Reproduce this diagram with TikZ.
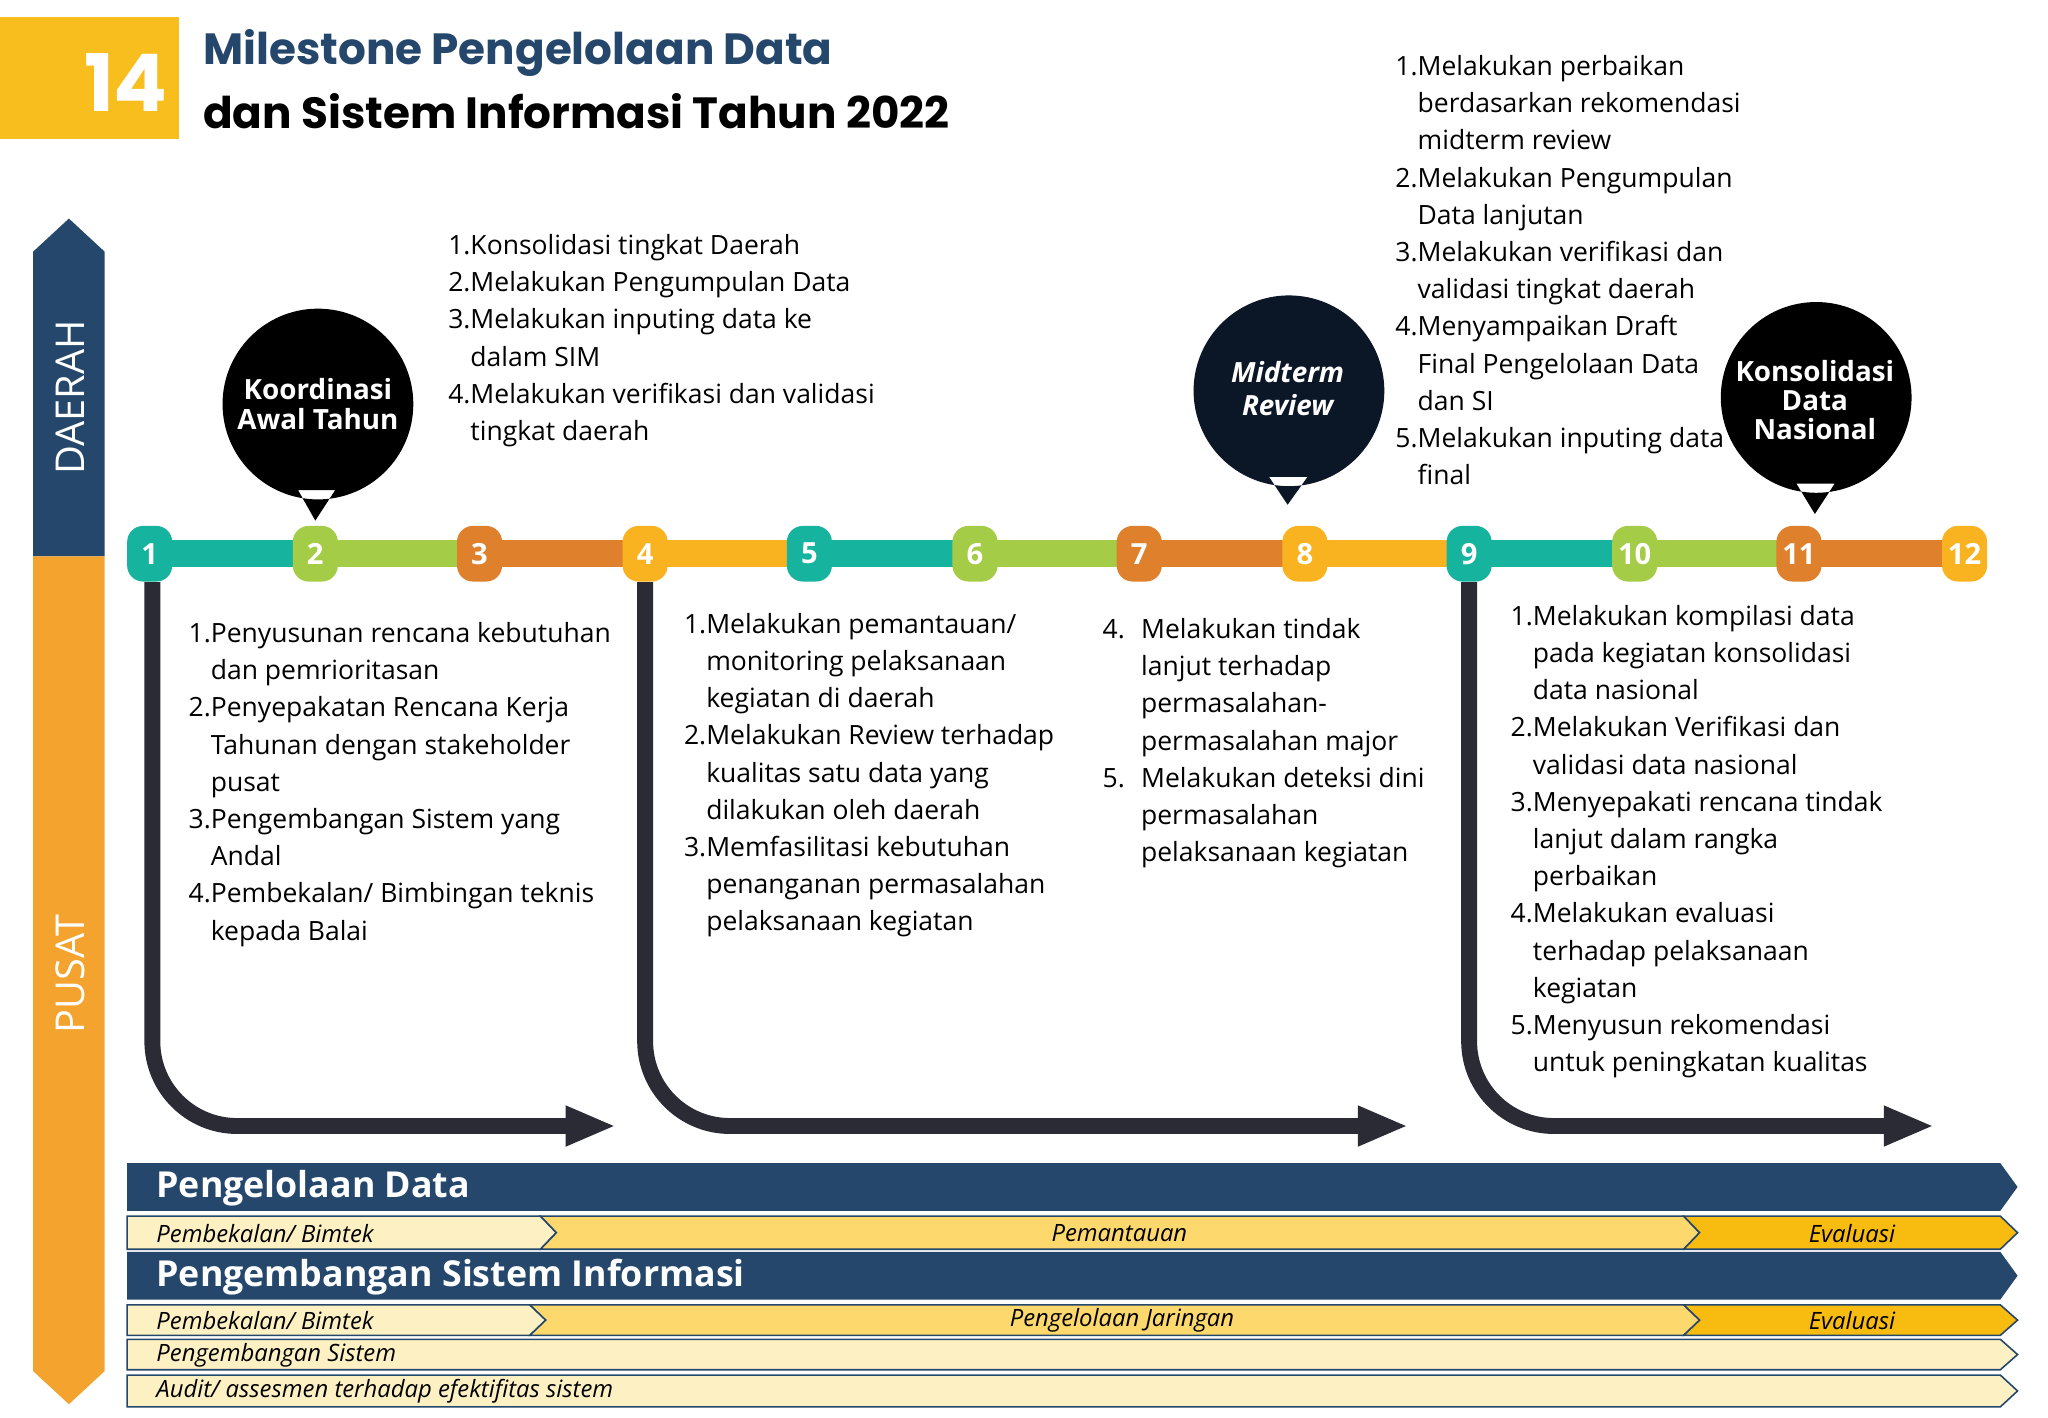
\documentclass[tikz,border=0pt]{standalone}
\usepackage{fontspec}
\setmainfont{Open Sans}
\newfontfamily\titlefont{Poppins}
\usetikzlibrary{arrows.meta,shapes.geometric}
\definecolor{navy}{HTML}{24476B}
\definecolor{tealc}{HTML}{16B49E}
\definecolor{greenc}{HTML}{A5CC47}
\definecolor{orangec}{HTML}{DF812C}
\definecolor{yellowc}{HTML}{FAB320}
\definecolor{goldbox}{HTML}{F8BE1E}
\definecolor{pusat}{HTML}{F4A32F}
\definecolor{cream}{HTML}{FDF1C4}
\definecolor{midy}{HTML}{FDD86C}
\definecolor{goldy}{HTML}{F8BC10}
\definecolor{arrowc}{HTML}{2B2B35}
\definecolor{bubble}{HTML}{000000}
\definecolor{bubble2}{HTML}{0B1626}
\tikzset{
 tl/.style={rounded corners=6pt,minimum width=17pt,minimum height=21pt,inner sep=0pt,text=white,font=\bfseries\fontsize{11}{11}\selectfont},
 seg/.style={line width=10pt},
 lst/.style={anchor=north west,inner sep=0pt,font=\fontsize{10}{13}\selectfont},
 curv/.style={line width=6pt,arrowc,rounded corners=32pt,-{Triangle[length=19pt,width=14pt]}},
 bub/.style={font=\bfseries\fontsize{10.5}{11}\selectfont,text=white,align=center},
 rowt/.style={font=\itshape\fontsize{9}{9}\selectfont},
 bandt/.style={font=\bfseries\fontsize{13.5}{14}\selectfont,text=white,anchor=west},
 bandl/.style={draw=navy,line width=0.6pt},
}
\newcommand{\tab}[1]{\renewcommand{\arraystretch}{1.08}\begin{tabular}{@{}l@{}l@{}}#1\end{tabular}}
\begin{document}
\begin{tikzpicture}[x=0.5pt,y=-0.5pt]
\useasboundingbox (0,0) rectangle (1546,1070);
\fill[white] (0,0) rectangle (1546,1070);
% header
\fill[goldbox] (0,13) rectangle (135,105);
\node[text=white,font=\titlefont\bfseries\fontsize{30}{30}\selectfont] (num) at (95,62) {14};
\node[anchor=west,inner sep=0pt,text=navy,font=\titlefont\bfseries\fontsize{16.5}{17}\selectfont] (t1) at (153,40) {Milestone Pengelolaan Data};
\node[anchor=west,inner sep=0pt,text=black,font=\titlefont\bfseries\fontsize{16.5}{17}\selectfont] (t2) at (153,84) {dan Sistem Informasi Tahun 2022};
% left arrow
\fill[navy] (25,420) -- (25,190) -- (52,165) -- (79,190) -- (79,420) -- cycle;
\fill[pusat] (25,420) -- (25,1035) -- (52,1060) -- (79,1035) -- (79,420) -- cycle;
\node[rotate=90,text=white,font=\fontsize{15}{15}\selectfont] (daerah) at (53,300) {DAERAH};
\node[rotate=90,text=white,font=\fontsize{15}{15}\selectfont] (pusatt) at (53,735) {PUSAT};
% timeline
\foreach \i/\x/\c in {1/113/tealc,2/238/greenc,3/362/orangec,4/487/yellowc,5/611/tealc,6/736/greenc,7/860/orangec,8/985/yellowc,9/1109/tealc,10/1234/greenc,11/1358/orangec,12/1483/yellowc}{
  \coordinate (p\i) at (\x,418);
}
\foreach \i/\j/\c in {1/2/tealc,2/3/greenc,3/4/orangec,4/5/yellowc,5/6/tealc,6/7/greenc,7/8/orangec,8/9/yellowc,9/10/tealc,10/11/greenc,11/12/orangec}{
  \draw[seg,\c] (p\i) -- (p\j);
}
\draw[seg,yellowc] (p12) -- (1500,418);
\foreach \i/\c in {1/tealc,2/greenc,3/orangec,4/yellowc,5/tealc,6/greenc,7/orangec,8/yellowc,9/tealc,10/greenc,11/orangec,12/yellowc}{
  \node[tl,fill=\c] (n\i) at (p\i) {\i};
}
% bubbles
\fill[bubble] (240,305) circle (72) (225,370) -- (238,393) -- (253,370) -- cycle;
\node[bub] (b1) at (240,305) {Koordinasi\\Awal Tahun};
\fill[bubble2] (973,295) circle (72) (958,360) -- (972,381) -- (987,360) -- cycle;
\node[bub,font=\bfseries\itshape\fontsize{10.5}{12.5}\selectfont] (b2) at (972,293) {Midterm\\Review};
\fill[bubble] (1371,300) circle (72) (1356,365) -- (1370,388) -- (1385,365) -- cycle;
\node[bub,font=\bfseries\fontsize{10.5}{11}\selectfont] (b3) at (1370,302) {Konsolidasi\\Data\\Nasional};
% lists
\node[lst] (la) at (338,172) {\tab{1.&Konsolidasi tingkat Daerah\\2.&Melakukan Pengumpulan Data\\3.&Melakukan inputing data ke\\&dalam SIM\\4.&Melakukan verifikasi dan validasi\\&tingkat daerah}};
\node[lst] (lb) at (1053,37) {\tab{1.&Melakukan perbaikan\\&berdasarkan rekomendasi\\&midterm review\\2.&Melakukan Pengumpulan\\&Data lanjutan\\3.&Melakukan verifikasi dan\\&validasi tingkat daerah\\4.&Menyampaikan Draft\\&Final Pengelolaan Data\\&dan SI\\5.&Melakukan inputing data\\&final}};
\node[lst] (lc) at (142,465) {\tab{1.&Penyusunan rencana kebutuhan\\&dan pemrioritasan\\2.&Penyepakatan Rencana Kerja\\&Tahunan dengan stakeholder\\&pusat\\3.&Pengembangan Sistem yang\\&Andal\\4.&Pembekalan/ Bimbingan teknis\\&kepada Balai}};
\node[lst] (ld) at (516,458) {\tab{1.&Melakukan pemantauan/\\&monitoring pelaksanaan\\&kegiatan di daerah\\2.&Melakukan Review terhadap\\&kualitas satu data yang\\&dilakukan oleh daerah\\3.&Memfasilitasi kebutuhan\\&penanganan permasalahan\\&pelaksanaan kegiatan}};
\node[lst] (le) at (832,462) {\renewcommand{\arraystretch}{1.08}\begin{tabular}{@{}p{14.5pt}@{}l@{}}4.&Melakukan tindak\\&lanjut terhadap\\&permasalahan-\\&permasalahan major\\5.&Melakukan deteksi dini\\&permasalahan\\&pelaksanaan kegiatan\end{tabular}};
\node[lst] (lf) at (1140,452) {\tab{1.&Melakukan kompilasi data\\&pada kegiatan konsolidasi\\&data nasional\\2.&Melakukan Verifikasi dan\\&validasi data nasional\\3.&Menyepakati rencana tindak\\&lanjut dalam rangka\\&perbaikan\\4.&Melakukan evaluasi\\&terhadap pelaksanaan\\&kegiatan\\5.&Menyusun rekomendasi\\&untuk peningkatan kualitas}};
% curved arrows
\coordinate (e1) at (465,850);
\coordinate (e2) at (1063,850);
\coordinate (e3) at (1460,850);
\draw[curv] (n1.south -| 115,0) |- (e1);
\draw[curv] (n4.south) |- (e2);
\draw[curv] (n9.south) |- (e3);
% bands
\fill[navy] (96,878) -- (1510,878) -- (1523,896) -- (1510,914) -- (96,914) -- cycle;
\node[bandt] (bt1) at (111,897) {Pengelolaan Data};
\fill[navy] (96,945) -- (1510,945) -- (1523,963) -- (1510,981) -- (96,981) -- cycle;
\node[bandt] (bt2) at (111,964) {Pengembangan Sistem Informasi};
% row 1
\filldraw[bandl,fill=cream] (96,918) -- (408,918) -- (420,930.5) -- (408,943) -- (96,943) -- cycle;
\filldraw[bandl,fill=midy] (408,918) -- (1271,918) -- (1283,930.5) -- (1271,943) -- (408,943) -- (420,930.5) -- cycle;
\filldraw[bandl,fill=goldy] (1271,918) -- (1510,918) -- (1523,930.5) -- (1510,943) -- (1271,943) -- (1283,930.5) -- cycle;
\node[rowt,anchor=west] (r1a) at (111,931) {Pembekalan/ Bimtek};
\node[rowt] (r1b) at (845,931) {Pemantauan};
\node[rowt] (r1c) at (1398,931) {Evaluasi};
% row 2
\filldraw[bandl,fill=cream] (96,985) -- (400,985) -- (412,996.5) -- (400,1008) -- (96,1008) -- cycle;
\filldraw[bandl,fill=midy] (400,985) -- (1271,985) -- (1283,996.5) -- (1271,1008) -- (400,1008) -- (412,996.5) -- cycle;
\filldraw[bandl,fill=goldy] (1271,985) -- (1510,985) -- (1523,996.5) -- (1510,1008) -- (1271,1008) -- (1283,996.5) -- cycle;
\node[rowt,anchor=west] (r2a) at (111,997) {Pembekalan/ Bimtek};
\node[rowt] (r2b) at (847,997) {Pengelolaan Jaringan};
\node[rowt] (r2c) at (1398,997) {Evaluasi};
% rows 3,4
\filldraw[bandl,fill=cream] (96,1011) -- (1510,1011) -- (1523,1022.5) -- (1510,1034) -- (96,1034) -- cycle;
\node[rowt,anchor=west] (r3) at (111,1023) {Pengembangan Sistem};
\filldraw[bandl,fill=cream] (96,1038) -- (1510,1038) -- (1523,1050) -- (1510,1062) -- (96,1062) -- cycle;
\node[rowt,anchor=west] (r4) at (111,1050) {Audit/ assesmen terhadap efektifitas sistem};
\end{tikzpicture}
\end{document}
